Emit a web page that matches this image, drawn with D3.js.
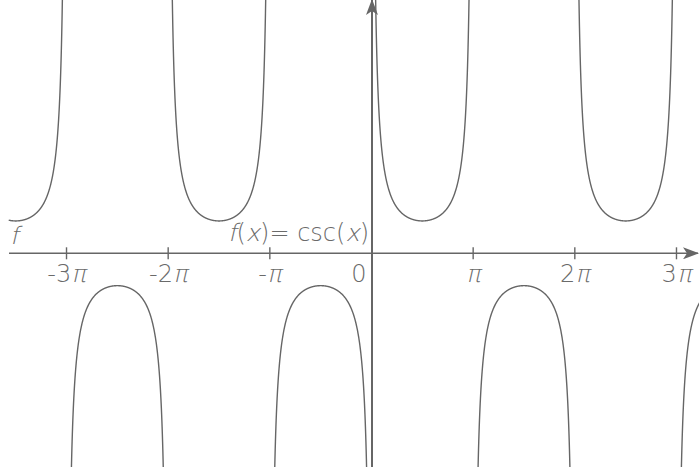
<!DOCTYPE html>
<html><head><meta charset="utf-8">
<script src="https://cdn.jsdelivr.net/npm/d3@7"></script>
<style>
html,body{margin:0;padding:0;background:#fff;}
svg{display:block;}
text{font-family:"DejaVu Sans",sans-serif;font-weight:200;fill:#6a6a6a;}
</style>
</head><body>
<script>
// Data
const tickMultiples = [-3, -2, -1, 0, 1, 2, 3];
const tickCoefs = ["-3", "-2", "-", "0", "", "2", "3"];
const tickSymbol = "π";
const functionName = "csc";
const curveStart = -11.21;   // left end of plotted curve (x units)
const curveEnd = 10.2;       // right end of plotted curve
const branchIndices = [-4, -3, -2, -1, 0, 1, 2, 3]; // branch between kπ and (k+1)π

const W = 699, H = 467;
const unit = 32.36, x0px = 371.5, y0px = 253.3;
const x = d3.scaleLinear().domain([-x0px/unit, (W - x0px)/unit]).range([0, W]);
const y = d3.scaleLinear().domain([y0px/unit, -(H - y0px)/unit]).range([0, H]);

const svg = d3.select("body").append("svg").attr("width", W).attr("height", H);
const defs = svg.append("defs");
defs.append("clipPath").attr("id", "clip").append("rect").attr("x", 0).attr("y", 0).attr("width", W).attr("height", H);
defs.append("marker").attr("id", "arrow").attr("viewBox", "0 0 16 12").attr("refX", 15).attr("refY", 6)
  .attr("markerWidth", 16).attr("markerHeight", 12).attr("markerUnits", "userSpaceOnUse").attr("orient", "auto")
  .append("path").attr("d", "M0,0 L16,6 L0,12 L4,6 Z").attr("fill", "#666");

const grey = "#666";

// curves
const f = v => 1 / Math.sin(v);
const line = d3.line().x(d => x(d[0])).y(d => y(d[1]));
const eps = Math.asin(1/12);
const g = svg.append("g").attr("clip-path", "url(#clip)");
branchIndices.forEach(k => {
  let a = k*Math.PI + eps, b = (k+1)*Math.PI - eps;
  a = Math.max(a, curveStart); b = Math.min(b, curveEnd);
  if (b <= a) return;
  const n = 400;
  const pts = d3.range(n + 1).map(i => {
    const v = a + (b - a) * i / n;
    return [v, f(v)];
  });
  g.append("path").attr("d", line(pts)).attr("fill", "none").attr("stroke", grey).attr("stroke-width", 1.4);
});

// x axis
svg.append("line").attr("x1", 9).attr("x2", 698).attr("y1", y(0)).attr("y2", y(0))
  .attr("stroke", grey).attr("stroke-width", 1.6).attr("marker-end", "url(#arrow)");
// y axis
svg.append("line").attr("x1", x(0) + 0.5).attr("x2", x(0) + 0.5).attr("y1", H).attr("y2", 0)
  .attr("stroke", grey).attr("stroke-width", 2).attr("marker-end", "url(#arrow)");

// rich text helper: segments [text, italic]; italic drawn as skewed light glyphs
function rich(segs, px, py, anchor, size) {
  const grp = svg.append("g");
  const items = segs.filter(s => s[0] !== "").map(s => {
    const t = grp.append("text").attr("font-size", size).attr("x", 0).attr("y", 0)
      .style("white-space", "pre").attr("xml:space", "preserve").text(s[0]);
    return {t, it: s[1], w: t.node().getComputedTextLength()};
  });
  const total = d3.sum(items, d => d.w);
  let cx = anchor === "end" ? px - total : anchor === "middle" ? px - total / 2 : px;
  items.forEach(d => {
    d.t.attr("transform", `translate(${cx},${py})` + (d.it ? " skewX(-13)" : ""));
    cx += d.w;
  });
}

// ticks
tickMultiples.forEach((m, i) => {
  const px = x(m * Math.PI);
  if (m !== 0) {
    svg.append("line").attr("x1", px).attr("x2", px).attr("y1", y(0) - 6).attr("y2", y(0) + 6)
      .attr("stroke", grey).attr("stroke-width", 1.4);
    rich([[tickCoefs[i], false], [tickSymbol, true]], px, 282, "middle", 24);
  } else {
    rich([[tickCoefs[i], false]], px - 5, 282, "end", 24);
  }
});

// function label
rich([["f", true], ["(", false], ["x", true], [")= " + functionName + "(", false], ["x", true], [")", false]],
  369, 241, "end", 24);

rich([["f", true]], 10, 244, "start", 24);
</script>
</body></html>
